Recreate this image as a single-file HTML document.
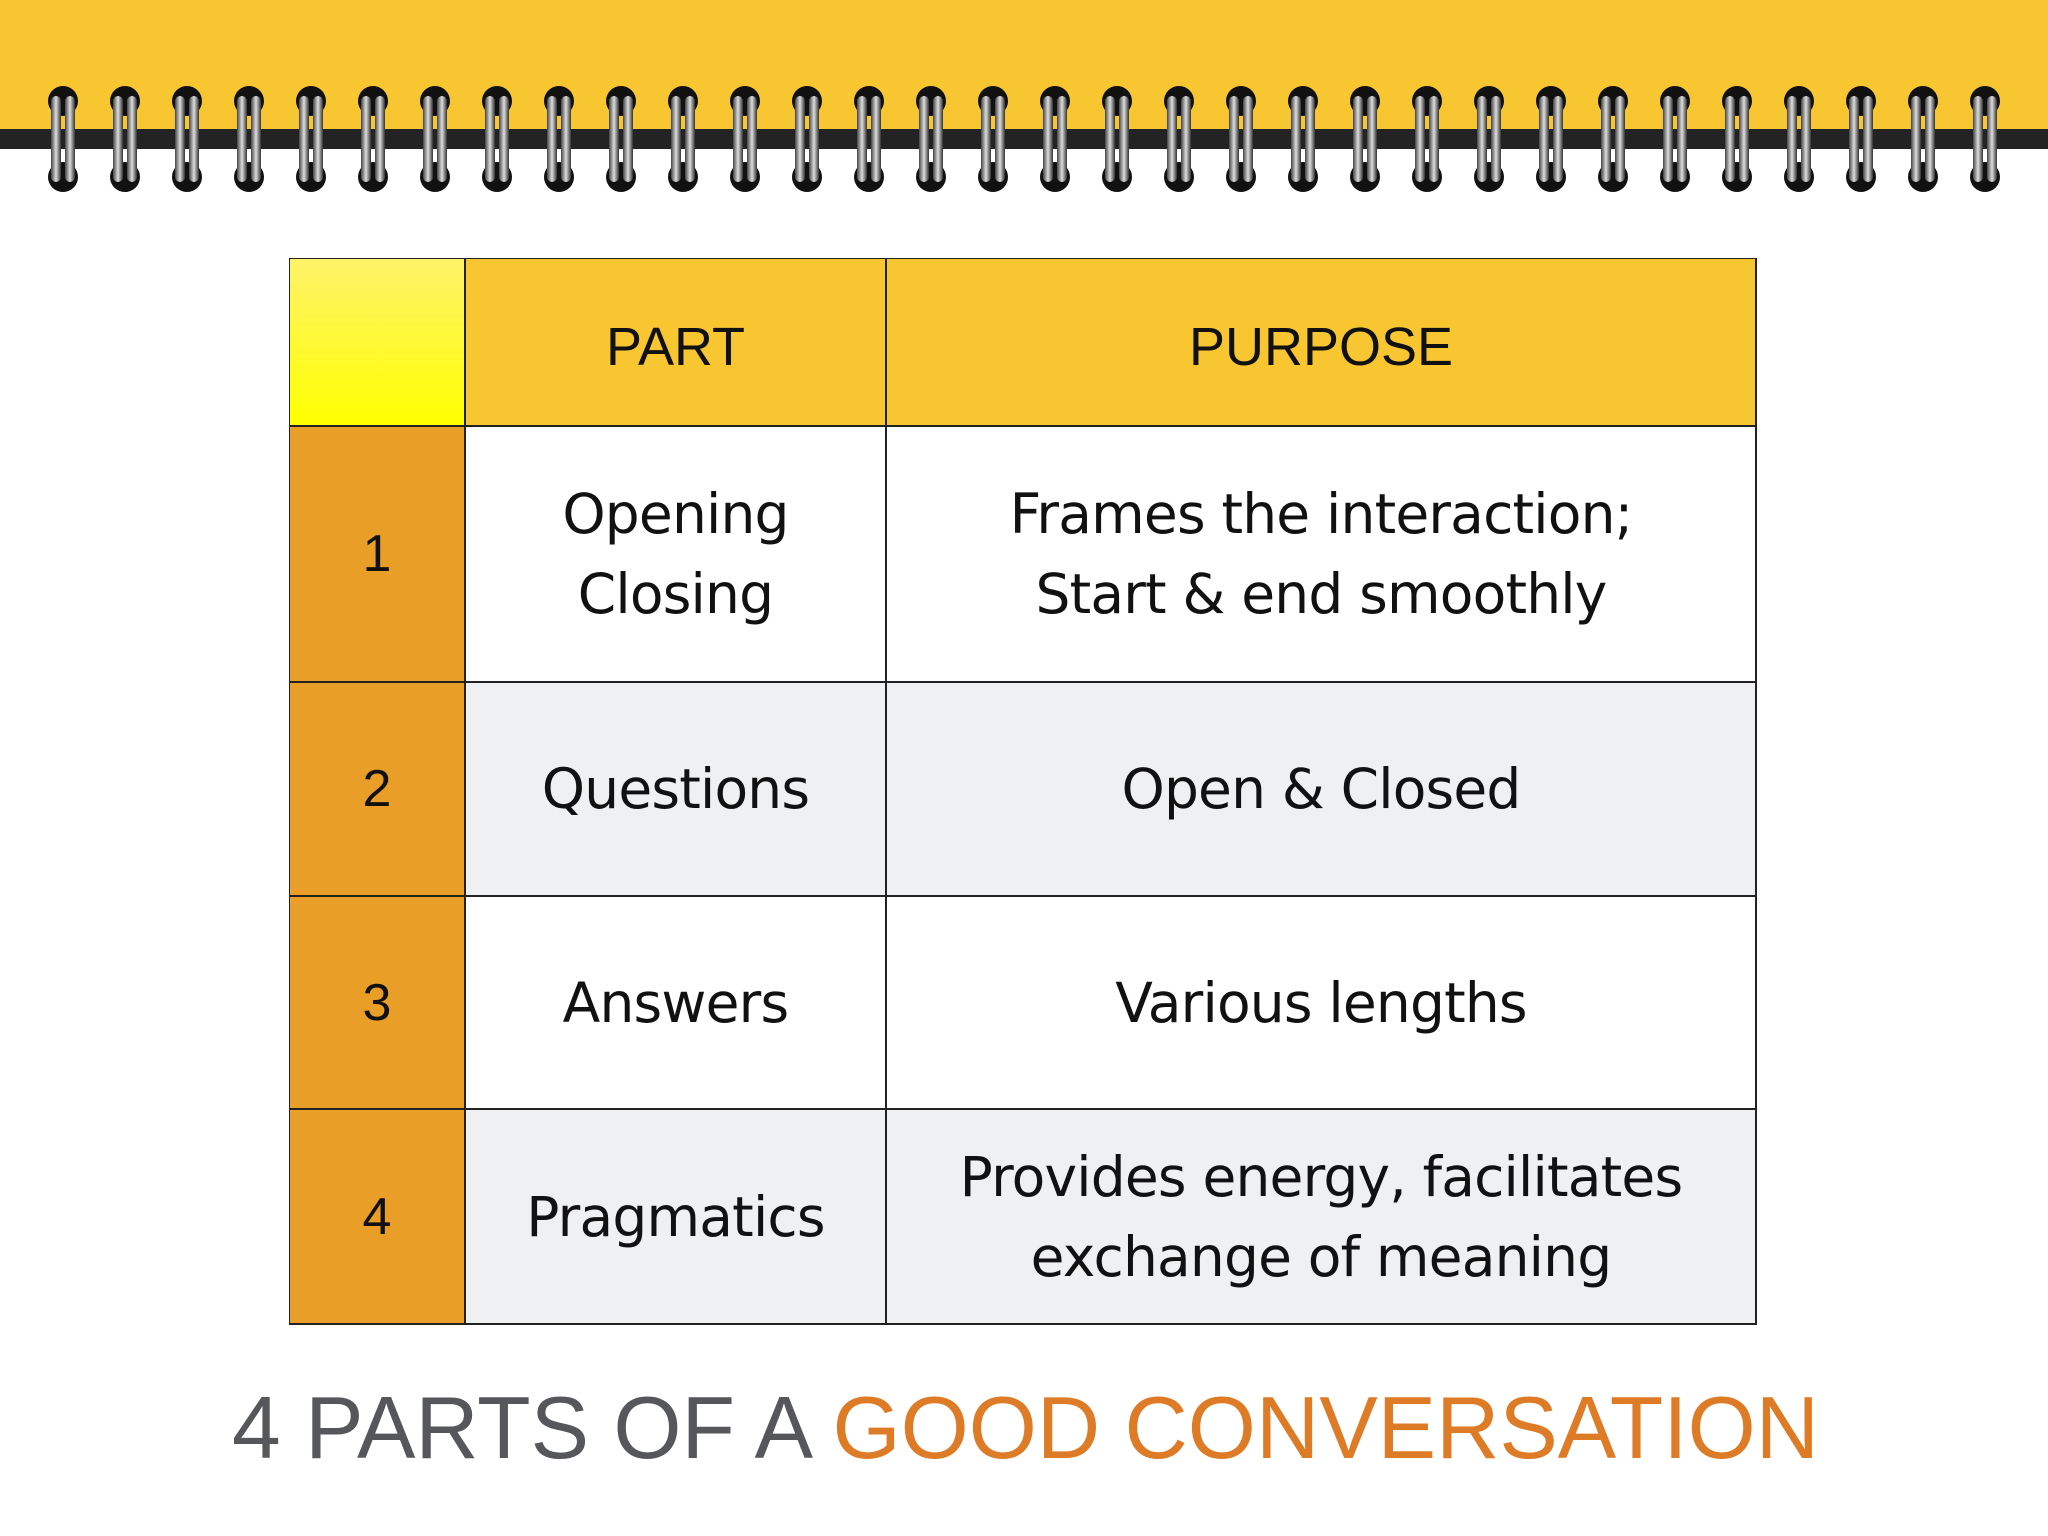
<!DOCTYPE html>
<html><head><style>
html,body{margin:0;padding:0;}
body{width:2048px;height:1536px;background:#fff;position:relative;overflow:hidden;font-family:"DejaVu Sans","Liberation Sans",sans-serif;}
.c{position:absolute;display:flex;align-items:center;justify-content:center;text-align:center;box-sizing:border-box;color:#111;}
.t{font-size:55px;letter-spacing:-0.8px;line-height:80px;}
</style></head><body>
<div style="position:absolute;left:0;top:0;width:2048px;height:129px;background:#F8C630;"></div>
<div style="position:absolute;left:0;top:129px;width:2048px;height:20px;background:#232323;"></div>
<svg style="position:absolute;left:0;top:0" width="2048" height="220">
<defs>
<linearGradient id="w" x1="0" x2="1"><stop offset="0" stop-color="#444"/><stop offset="0.5" stop-color="#ddd"/><stop offset="1" stop-color="#333"/></linearGradient>
<g id="r">
<circle cx="0" cy="101" r="15" fill="#111"/>
<circle cx="0" cy="177" r="15" fill="#111"/>
<rect x="-12" y="96" width="10" height="86" rx="5" fill="url(#w)"/>
<rect x="2" y="96" width="10" height="86" rx="5" fill="url(#w)"/>
</g>
</defs>
<g id="rings"></g>
</svg>
<script>
var g=document.getElementById('rings'),s='';
for(var i=0;i<32;i++){s+='<use href="#r" x="'+(63+i*62.0)+'" y="0"/>';}
g.innerHTML=s;
</script>

<div style="position:absolute;left:289px;top:258px;width:1468px;height:1067px;border:2px solid #222;box-sizing:border-box;"></div>
<div class="c" style="left:290px;top:259px;width:176px;height:168px;background:linear-gradient(#FEF26A,#FFFF00);border-right:2px solid #222;border-bottom:2px solid #222;"></div>
<div class="c" style="left:466px;top:259px;width:421px;height:168px;background:#F8C630;border-right:2px solid #222;border-bottom:2px solid #222;font-family:'Liberation Sans',sans-serif;font-size:54px;padding-top:10px;">PART</div>
<div class="c" style="left:887px;top:259px;width:868px;height:168px;background:#F8C630;border-bottom:2px solid #222;font-family:'Liberation Sans',sans-serif;font-size:54px;padding-top:10px;">PURPOSE</div>

<div class="c" style="left:290px;top:427px;width:176px;height:256px;background:#E99E27;border-right:2px solid #222;border-bottom:2px solid #222;font-family:'Liberation Sans',sans-serif;font-size:52px;">1</div>
<div class="c t" style="left:466px;top:427px;width:421px;height:256px;background:#fff;border-right:2px solid #222;border-bottom:2px solid #222;">Opening<br>Closing</div>
<div class="c t" style="left:887px;top:427px;width:868px;height:256px;background:#fff;border-bottom:2px solid #222;">Frames the interaction;<br>Start &amp; end smoothly</div>

<div class="c" style="left:290px;top:683px;width:176px;height:214px;background:#E99E27;border-right:2px solid #222;border-bottom:2px solid #222;font-family:'Liberation Sans',sans-serif;font-size:52px;">2</div>
<div class="c t" style="left:466px;top:683px;width:421px;height:214px;background:#EFF0F2;border-right:2px solid #222;border-bottom:2px solid #222;">Questions</div>
<div class="c t" style="left:887px;top:683px;width:868px;height:214px;background:#EFF0F2;border-bottom:2px solid #222;">Open &amp; Closed</div>

<div class="c" style="left:290px;top:897px;width:176px;height:213px;background:#E99E27;border-right:2px solid #222;border-bottom:2px solid #222;font-family:'Liberation Sans',sans-serif;font-size:52px;">3</div>
<div class="c t" style="left:466px;top:897px;width:421px;height:213px;background:#fff;border-right:2px solid #222;border-bottom:2px solid #222;">Answers</div>
<div class="c t" style="left:887px;top:897px;width:868px;height:213px;background:#fff;border-bottom:2px solid #222;">Various lengths</div>

<div class="c" style="left:290px;top:1110px;width:176px;height:213px;background:#E99E27;border-right:2px solid #222;font-family:'Liberation Sans',sans-serif;font-size:52px;">4</div>
<div class="c t" style="left:466px;top:1110px;width:421px;height:213px;background:#EFF0F2;border-right:2px solid #222;">Pragmatics</div>
<div class="c t" style="left:887px;top:1110px;width:868px;height:213px;background:#EFF0F2;">Provides energy, facilitates<br>exchange of meaning</div>

<svg style="position:absolute;left:0;top:1360px" width="2048" height="140">
<text x="232" y="98" font-family="Liberation Sans, sans-serif" font-size="88" textLength="1587" lengthAdjust="spacingAndGlyphs" fill="#56575B">4 PARTS OF A <tspan fill="#DD7B27">GOOD CONVERSATION</tspan></text>
</svg>
</body></html>
